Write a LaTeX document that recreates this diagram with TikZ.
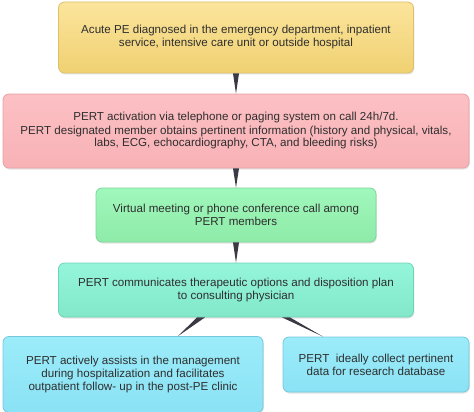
\documentclass[tikz,border=0pt]{standalone}
\usepackage{fontspec}
\setmainfont{Liberation Sans}
\usetikzlibrary{calc,shadows}
\definecolor{txt}{HTML}{2E2E2E}
\definecolor{wedgec}{HTML}{3A3A44}
\definecolor{yelT}{HTML}{FBE49C}\definecolor{yelB}{HTML}{F0D172}\definecolor{yelD}{HTML}{DFC06A}
\definecolor{pinkT}{HTML}{FCC0C4}\definecolor{pinkB}{HTML}{F8B2B6}\definecolor{pinkD}{HTML}{E6A2A6}
\definecolor{grnT}{HTML}{A0F8BC}\definecolor{grnB}{HTML}{8EEBA8}\definecolor{grnD}{HTML}{7ED49A}
\definecolor{tealT}{HTML}{94F5DA}\definecolor{tealB}{HTML}{82E8C9}\definecolor{tealD}{HTML}{70D2B6}
\definecolor{bluT}{HTML}{9CECFA}\definecolor{bluB}{HTML}{8AE2F4}\definecolor{bluD}{HTML}{74C8DE}
\tikzset{
  box/.style={rounded corners=6pt, line width=0.8pt, align=center, text=txt,
    font=\fontsize{11.6}{13}\selectfont, inner sep=0pt,
    drop shadow={opacity=0.22, shadow xshift=0.8pt, shadow yshift=-1.5pt}},
  yel/.style={box, draw=yelD, top color=yelT, bottom color=yelB},
  pnk/.style={box, draw=pinkD, top color=pinkT, bottom color=pinkB},
  grn/.style={box, draw=grnD, top color=grnT, bottom color=grnB},
  tel/.style={box, draw=tealD, top color=tealT, bottom color=tealB},
  blu/.style={box, draw=bluD, top color=bluT, bottom color=bluB},
  wedge/.style={fill=wedgec}
}
\begin{document}
\begin{tikzpicture}[x=1pt,y=-1pt]
\useasboundingbox (0,0) rectangle (474,412);
\node[yel, minimum width=355pt, minimum height=71pt] (a) at (236,37.5)
  {Acute PE diagnosed in the emergency department, inpatient\\service, intensive care unit or outside hospital};
\node[pnk, minimum width=466pt, minimum height=74pt] (b) at (236,131)
  {PERT activation via telephone or paging system on call 24h/7d.\\PERT designated member obtains pertinent information (history and physical, vitals,\\labs, ECG, echocardiography, CTA, and bleeding risks)};
\node[grn, minimum width=280pt, minimum height=54pt] (c) at (236,215)
  {Virtual meeting or phone conference call among\\PERT members};
\node[tel, minimum width=355pt, minimum height=54pt] (d) at (236,290)
  {PERT communicates therapeutic options and disposition plan\\to consulting physician};
\node[blu, minimum width=260pt, minimum height=76pt] (e) at (133,374.5)
  {PERT actively assists in the management\\during hospitalization and facilitates\\outpatient follow- up in the post-PE clinic};
\node[blu, minimum width=186pt, minimum height=55pt] (f) at (376,364.5)
  {PERT\ \ ideally collect pertinent\\data for research database};
\fill[wedge] ($(a.south)+(-3,0)$) -- ($(a.south)+(3,0)$) -- (b.north) -- cycle;
\fill[wedge] ($(b.south)+(-3,0)$) -- ($(b.south)+(3,0)$) -- (c.north) -- cycle;
\fill[wedge] ($(c.south)+(-3,0)$) -- ($(c.south)+(3,0)$) -- (d.north) -- cycle;
\fill[wedge] ($(d.south)+(-39,0)$) -- ($(d.south)+(-31,0)$) -- ($(e.north)+(45,0)$) -- cycle;
\fill[wedge] ($(d.south)+(46,0)$) -- ($(d.south)+(54,0)$) -- ($(f.north)+(-53,0)$) -- cycle;
\end{tikzpicture}
\end{document}
